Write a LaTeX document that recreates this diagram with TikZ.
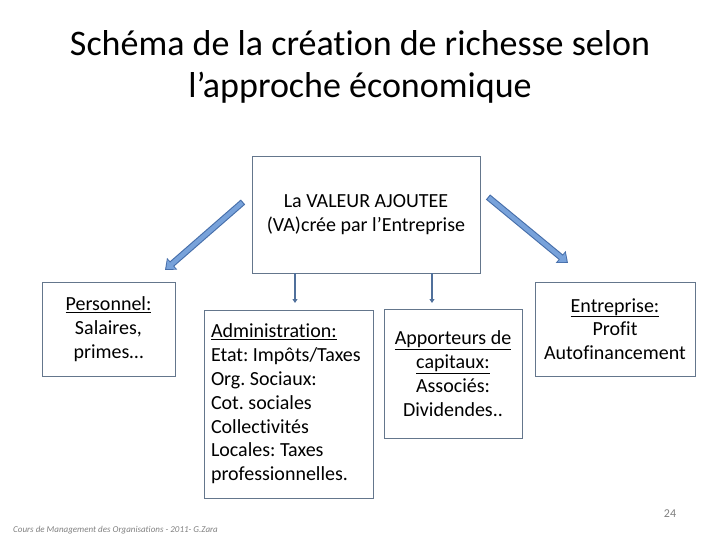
\documentclass[tikz,border=0pt]{standalone}
\usepackage{fontspec}
\setmainfont{Carlito}[Ligatures=NoCommon]
\frenchspacing
\usetikzlibrary{arrows.meta}
\definecolor{boxline}{RGB}{100,118,140}
\definecolor{thinarr}{RGB}{80,112,155}
\definecolor{arrfill}{RGB}{120,162,218}
\definecolor{arrline}{RGB}{70,110,170}
\tikzset{
  box/.style={draw=boxline, line width=0.8pt, fill=white, align=center, inner sep=0pt,
    font=\fontsize{20}{23.8}\selectfont},
  thinarrow/.style={draw=thinarr, line width=1.6pt, -{Triangle[width=5pt,length=4pt]}},
  bigouter/.style={draw=arrline, line width=6.6pt, -{Triangle[width=15pt,length=9.5pt]}},
  biginner/.style={draw=arrfill, line width=4.4pt, shorten >=1.6pt, shorten <=1.1pt, -{Triangle[width=11.5pt,length=7pt]}}
}
\begin{document}
\begin{tikzpicture}[x=1pt,y=-1pt]
\useasboundingbox (0,0) rectangle (720,540);
\node[font=\fontsize{36}{42}\selectfont, align=center, inner sep=0pt] (title) at (360,67)
  {Schéma de la création de richesse selon\\l’approche économique};
\node[box, minimum width=228pt, minimum height=117pt] (va) at (366,214.5)
  {La VALEUR AJOUTEE\\(VA)crée par l’Entreprise};
\node[box, minimum width=133pt, minimum height=94pt] (pers) at (108.5,329)
  {\underline{Personnel:}\\Salaires,\\primes…};
\node[box, minimum width=169pt, minimum height=188pt, text width=155pt, align=flush left] (adm) at (288.5,404)
  {\underline{Administration:}\\Etat: Impôts/Taxes\\Org. Sociaux:\\Cot. sociales\\Collectivités\\Locales: Taxes\\professionnelles.};
\node[box, minimum width=138pt, minimum height=129pt] (app) at (453,373.5)
  {\underline{Apporteurs de}\\\underline{capitaux:}\\Associés:\\Dividendes..};
\node[box, minimum width=160pt, minimum height=94pt] (ent) at (615,329)
  {\underline{Entreprise:}\\Profit\\Autofinancement};
% thin arrows
\coordinate (t1) at (295,303);
\coordinate (t2) at (432,303);
\draw[thinarrow] (va.south -| t1) -- (t1);
\draw[thinarrow] (va.south -| t2) -- (t2);
% thick arrows
\coordinate (l1) at (243,202);
\coordinate (l2) at (165,270);
\coordinate (r1) at (488,197);
\coordinate (r2) at (568,263);
\draw[bigouter] (l1) -- (l2);
\draw[biginner] (l1) -- (l2);
\draw[bigouter] (r1) -- (r2);
\draw[biginner] (r1) -- (r2);
% footer
\node[font=\fontsize{12}{14}\selectfont, text=gray, inner sep=0pt] (num) at (670,514) {24};
\node[font=\itshape\fontsize{9}{11}\selectfont, text=gray, anchor=west, inner sep=0pt] (foot) at (13,530)
  {Cours de Management des Organisations - 2011- G.Zara};
\end{tikzpicture}
\end{document}
